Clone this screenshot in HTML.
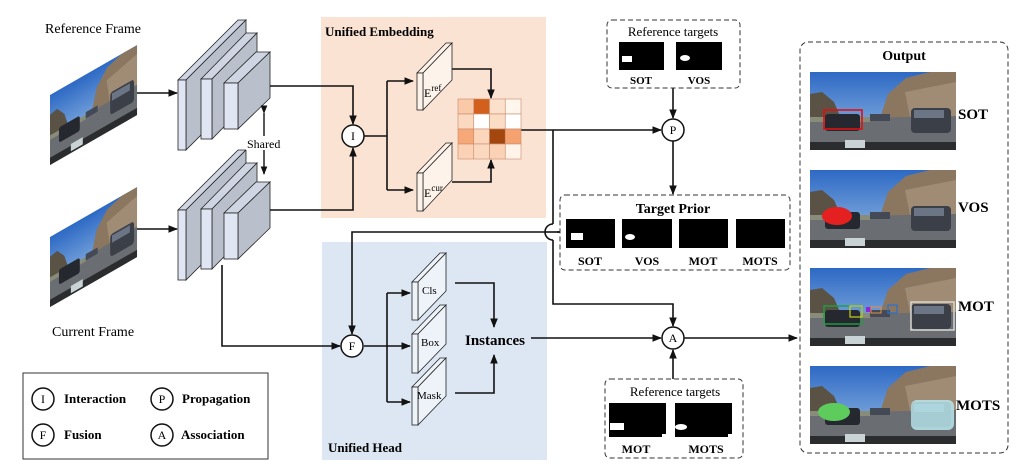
<!DOCTYPE html>
<html><head><meta charset="utf-8"><style>
html,body{margin:0;padding:0;background:#fff;}
svg{display:block;font-family:"Liberation Serif",serif;}
.b{font-weight:bold;}
</style></head><body>
<svg width="1033" height="474" viewBox="0 0 1033 474" xmlns="http://www.w3.org/2000/svg">
<defs>
<marker id="ar" viewBox="0 0 10 10" refX="9" refY="5" markerWidth="6" markerHeight="6" orient="auto"><path d="M0,1 L10,5 L0,9 z" fill="#111"/></marker>
<linearGradient id="sky" x1="0" y1="0" x2="0" y2="1"><stop offset="0" stop-color="#2d69c4"/><stop offset="1" stop-color="#9cc0e6"/></linearGradient>
<g id="photo">
<rect x="0" y="0" width="146" height="78" fill="url(#sky)"/>
<polygon points="0,22 12,20 24,30 30,44 0,48" fill="#5a5244"/>
<polygon points="70,46 78,22 96,6 120,0 146,0 146,56" fill="#8b7660"/>
<polygon points="95,20 146,10 146,50 100,45" fill="#a08c74"/>
<polygon points="0,47 146,44 146,78 0,78" fill="#6a6d71"/>
<rect x="0" y="45" width="60" height="5" fill="#8a8c7a"/>
<rect x="101" y="36" width="40" height="25" rx="4" fill="#3a3f48"/>
<rect x="104" y="38" width="30" height="8" fill="#6b7585"/>
<rect x="15" y="42" width="35" height="17" rx="3" fill="#25282e"/>
<rect x="60" y="42" width="20" height="7" fill="#444a55"/>
<rect x="0" y="70" width="146" height="8" fill="#2a2c2e"/>
<rect x="35" y="68" width="20" height="8" fill="#c9d3d6"/>
</g>
</defs>

<text x="45" y="33" font-size="14">Reference Frame</text>
<text x="52" y="336" font-size="14">Current Frame</text>

<use href="#photo" transform="matrix(0.596,-0.342,0,0.897,50,95)"/>
<use href="#photo" transform="matrix(0.596,-0.342,0,0.897,50,237)"/>
<line x1="137" y1="93" x2="177" y2="93" stroke="#111" stroke-width="1.6" marker-end="url(#ar)"/>
<line x1="137" y1="229" x2="177" y2="229" stroke="#111" stroke-width="1.6" marker-end="url(#ar)"/>

<g stroke="#222" stroke-width="0.8">
<polygon points="178,80 238,20 246,20 186,80" fill="#cfd5e2"/><polygon points="186,80 246,20 246,90 186,150" fill="#b9bfcb"/><rect x="178" y="80" width="8" height="70" fill="#dfe5f2"/>
<polygon points="201,79 246,33 257,33 212,79" fill="#cfd5e2"/><polygon points="212,79 257,33 257,93 212,139" fill="#b9bfcb"/><rect x="201" y="79" width="11" height="60" fill="#dfe5f2"/>
<polygon points="224,83 256,52 270,52 238,83" fill="#cfd5e2"/><polygon points="238,83 270,52 270,98 238,129" fill="#b9bfcb"/><rect x="224" y="83" width="14" height="46" fill="#dfe5f2"/>
</g>
<g stroke="#222" stroke-width="0.8" transform="translate(0,130)">
<polygon points="178,80 238,20 246,20 186,80" fill="#cfd5e2"/><polygon points="186,80 246,20 246,90 186,150" fill="#b9bfcb"/><rect x="178" y="80" width="8" height="70" fill="#dfe5f2"/>
<polygon points="201,79 246,33 257,33 212,79" fill="#cfd5e2"/><polygon points="212,79 257,33 257,93 212,139" fill="#b9bfcb"/><rect x="201" y="79" width="11" height="60" fill="#dfe5f2"/>
<polygon points="224,83 256,52 270,52 238,83" fill="#cfd5e2"/><polygon points="238,83 270,52 270,98 238,129" fill="#b9bfcb"/><rect x="224" y="83" width="14" height="46" fill="#dfe5f2"/>
</g>
<line x1="264" y1="113" x2="264" y2="174" stroke="#111" stroke-width="1.4" marker-start="url(#ar)" marker-end="url(#ar)"/>
<rect x="246" y="136" width="38" height="14" fill="#fff"/>
<text x="247" y="148" font-size="12">Shared</text>

<rect x="321" y="17" width="225" height="201" fill="#fbe3d3"/>
<text x="325" y="36" font-size="13" class="b">Unified Embedding</text>
<rect x="322" y="242" width="225" height="218" fill="#dde7f3"/>
<text x="328" y="452" font-size="13" class="b">Unified Head</text>

<g fill="none" stroke="#111" stroke-width="1.6">
<polyline points="270,86 353,86 353,124" marker-end="url(#ar)"/>
<polyline points="270,210 353,210 353,148" marker-end="url(#ar)"/>
<line x1="364" y1="136" x2="387" y2="136"/>
<polyline points="387,81 387,190"/>
<line x1="387" y1="81" x2="413" y2="81" marker-end="url(#ar)"/>
<line x1="387" y1="190" x2="413" y2="190" marker-end="url(#ar)"/>
<polyline points="452,69 491,69 491,98" marker-end="url(#ar)"/>
<polyline points="452,182 491,182 491,160" marker-end="url(#ar)"/>
<line x1="521" y1="130" x2="661" y2="130" marker-end="url(#ar)"/>
<path d="M553,130 L553,304 L673,304 L673,326" marker-end="url(#ar)"/>
<path d="M560,232 L560,232 M560,232 L560,232"/>
<path d="M560,232 L560,232"/>
<path d="M560,232 L560,232"/>
<path d="M560,232 L560,232"/>
<path d="M560,232 L560,232"/>
<path d="M560,232 L560,232"/>
<path d="M560,232 L560,232"/>
<path d="M560,232 L560,232"/>
<path d="M560,232 L553,232"/>
<path d="M545,232 L352,232 L352,334" marker-end="url(#ar)"/>
<polyline points="222,265 222,346 340,346" marker-end="url(#ar)"/>
<line x1="364" y1="346" x2="387" y2="346"/>
<line x1="387" y1="293" x2="387" y2="402"/>
<line x1="387" y1="293" x2="410" y2="293" marker-end="url(#ar)"/>
<line x1="387" y1="346" x2="410" y2="346" marker-end="url(#ar)"/>
<line x1="387" y1="402" x2="410" y2="402" marker-end="url(#ar)"/>
<polyline points="455,283 494,283 494,327" marker-end="url(#ar)"/>
<polyline points="455,393 494,393 494,355" marker-end="url(#ar)"/>
<line x1="531" y1="338" x2="661" y2="338" marker-end="url(#ar)"/>
<line x1="684" y1="338" x2="797" y2="338" marker-end="url(#ar)"/>
<line x1="673" y1="88" x2="673" y2="118" marker-end="url(#ar)"/>
<line x1="673" y1="141" x2="673" y2="194" marker-end="url(#ar)"/>
<line x1="673" y1="379" x2="673" y2="350" marker-end="url(#ar)"/>
</g>
<!-- hop over vertical line -->
<rect x="549" y="224" width="8" height="16" fill="#fff"/>
<path d="M553,224 A8,8 0 0 0 553,240" fill="none" stroke="#111" stroke-width="1.6"/>
<line x1="545" y1="232" x2="560" y2="232" stroke="#111" stroke-width="1.6"/>

<g stroke="#222" stroke-width="0.8" fill="#fdf3ea">
<polygon points="417,73 446,43 452,43 423,73"/><polygon points="423,73 452,43 452,80 423,110"/><rect x="417" y="73" width="6" height="37"/>
<polygon points="417,173 446,143 452,143 423,173"/><polygon points="423,173 452,143 452,180 423,211"/><rect x="417" y="173" width="6" height="38"/>
</g>
<text x="424" y="97" font-size="12">E<tspan dy="-6" font-size="9">ref</tspan></text>
<text x="424" y="197" font-size="12">E<tspan dy="-6" font-size="9">cur</tspan></text>

<g stroke="#c98a6c" stroke-width="0.6">
<rect x="458" y="99" width="15.75" height="15" fill="#f9c9a8"/><rect x="473.75" y="99" width="15.75" height="15" fill="#d2601c"/><rect x="489.5" y="99" width="15.75" height="15" fill="#fbe0cc"/><rect x="505.25" y="99" width="15.75" height="15" fill="#fff6ee"/>
<rect x="458" y="114" width="15.75" height="15" fill="#fbd9c1"/><rect x="473.75" y="114" width="15.75" height="15" fill="#fff"/><rect x="489.5" y="114" width="15.75" height="15" fill="#fbdcc5"/><rect x="505.25" y="114" width="15.75" height="15" fill="#fff"/>
<rect x="458" y="129" width="15.75" height="15" fill="#f6a879"/><rect x="473.75" y="129" width="15.75" height="15" fill="#fbd6bd"/><rect x="489.5" y="129" width="15.75" height="15" fill="#a3470f"/><rect x="505.25" y="129" width="15.75" height="15" fill="#f5a270"/>
<rect x="458" y="144" width="15.75" height="15" fill="#fbd2b5"/><rect x="473.75" y="144" width="15.75" height="15" fill="#fbd9c1"/><rect x="489.5" y="144" width="15.75" height="15" fill="#fbd2b5"/><rect x="505.25" y="144" width="15.75" height="15" fill="#fff3ea"/>
</g>

<g stroke="#222" stroke-width="0.8" fill="#eef3fa">
<polygon points="412,282 440,253 446,253 418,282"/><polygon points="418,282 446,253 446,291 418,320"/><rect x="412" y="282" width="6" height="38"/>
<polygon points="412,334 440,305 446,305 418,334"/><polygon points="418,334 446,305 446,344 418,373"/><rect x="412" y="334" width="6" height="39"/>
<polygon points="412,387 440,358 446,358 418,387"/><polygon points="418,387 446,358 446,396 418,425"/><rect x="412" y="387" width="6" height="38"/>
</g>
<text x="422" y="294" font-size="11">Cls</text>
<text x="421" y="346" font-size="11">Box</text>
<text x="417" y="399" font-size="11">Mask</text>
<text x="465" y="345" font-size="15" class="b">Instances</text>

<g fill="#fff" stroke="#111" stroke-width="1.5">
<circle cx="353" cy="136" r="11"/><circle cx="673" cy="130" r="11"/><circle cx="352" cy="346" r="11"/><circle cx="673" cy="338" r="11"/>
<circle cx="43" cy="399" r="11"/><circle cx="162" cy="399" r="11"/><circle cx="43" cy="435" r="11"/><circle cx="162" cy="435" r="11"/>
</g>
<g font-size="12" text-anchor="middle">
<text x="353" y="140">I</text><text x="673" y="134">P</text><text x="352" y="350">F</text><text x="673" y="342">A</text>
<text x="43" y="403">I</text><text x="162" y="403">P</text><text x="43" y="439">F</text><text x="162" y="439">A</text>
</g>

<rect x="23" y="373" width="245" height="86" fill="none" stroke="#333" stroke-width="1"/>
<g font-size="13" class="b"><text x="64" y="403">Interaction</text><text x="182" y="403">Propagation</text><text x="64" y="439">Fusion</text><text x="181" y="439">Association</text></g>

<rect x="607" y="20" width="133" height="68" rx="5" fill="#fff" stroke="#333" stroke-dasharray="5,3"/>
<text x="673" y="36" font-size="13" text-anchor="middle">Reference targets</text>
<rect x="619" y="42" width="45" height="28" fill="#000"/><rect x="622" y="56" width="10" height="6" fill="#fff"/>
<rect x="676" y="42" width="46" height="28" fill="#000"/><ellipse cx="685" cy="58" rx="5" ry="3" fill="#fff"/>
<g font-size="11" class="b" text-anchor="middle"><text x="641" y="84">SOT</text><text x="699" y="84">VOS</text></g>

<rect x="560" y="195" width="230" height="75" rx="5" fill="#fff" stroke="#333" stroke-dasharray="5,3"/>
<text x="673" y="213" font-size="14" class="b" text-anchor="middle">Target Prior</text>
<rect x="566" y="219" width="49" height="29" fill="#000"/><rect x="571" y="233" width="12" height="7" fill="#fff"/>
<rect x="622" y="219" width="50" height="29" fill="#000"/><ellipse cx="630" cy="237" rx="5" ry="3" fill="#fff"/>
<rect x="679" y="219" width="49" height="29" fill="#000"/>
<rect x="736" y="219" width="49" height="29" fill="#000"/>
<g font-size="12" class="b" text-anchor="middle"><text x="590" y="265">SOT</text><text x="647" y="265">VOS</text><text x="703" y="265">MOT</text><text x="760" y="265">MOTS</text></g>

<rect x="605" y="379" width="138" height="79" rx="5" fill="#fff" stroke="#333" stroke-dasharray="5,3"/>
<text x="675" y="396" font-size="13" text-anchor="middle">Reference targets</text>
<polygon points="609,403 666,403 666,434 662,434 662,437 609,437" fill="#000"/><rect x="610" y="423" width="14" height="7" fill="#fff"/>
<polygon points="675,403 732,403 732,434 728,434 728,437 675,437" fill="#000"/><ellipse cx="681" cy="427" rx="6" ry="3" fill="#fff"/>
<g font-size="12" class="b" text-anchor="middle"><text x="636" y="453">MOT</text><text x="706" y="453">MOTS</text></g>

<rect x="800" y="42" width="208" height="411" rx="8" fill="#fff" stroke="#333" stroke-dasharray="5,3"/>
<text x="904" y="60" font-size="14" class="b" text-anchor="middle">Output</text>
<use href="#photo" transform="translate(810,72)"/>
<rect x="824" y="110" width="38" height="19" fill="none" stroke="#e01010" stroke-width="1.6"/>
<use href="#photo" transform="translate(810,170)"/>
<ellipse cx="837" cy="216" rx="15" ry="9" fill="#e52020"/>
<use href="#photo" transform="translate(810,268)"/>
<rect x="824" y="306" width="38" height="18" fill="none" stroke="#1fa040" stroke-width="1.4"/>
<rect x="850" y="306" width="12" height="11" fill="none" stroke="#c8d020" stroke-width="1.2"/>
<rect x="866" y="307" width="5" height="5" fill="#8a2ad0"/>
<rect x="871" y="307" width="10" height="6" fill="none" stroke="#e89040" stroke-width="1"/>
<rect x="888" y="305" width="9" height="8" fill="none" stroke="#2a70d0" stroke-width="1.2"/>
<rect x="911" y="302" width="43" height="28" fill="none" stroke="#d8d8d0" stroke-width="1.5"/>
<use href="#photo" transform="translate(810,366)"/>
<ellipse cx="834" cy="412" rx="16" ry="9" fill="#5dcc5d"/>
<rect x="911" y="400" width="43" height="30" rx="6" fill="#b8e6ec" opacity="0.85"/>
<g font-size="15" class="b"><text x="958" y="119">SOT</text><text x="958" y="212">VOS</text><text x="958" y="311">MOT</text><text x="956" y="410">MOTS</text></g>
</svg>
</body></html>
